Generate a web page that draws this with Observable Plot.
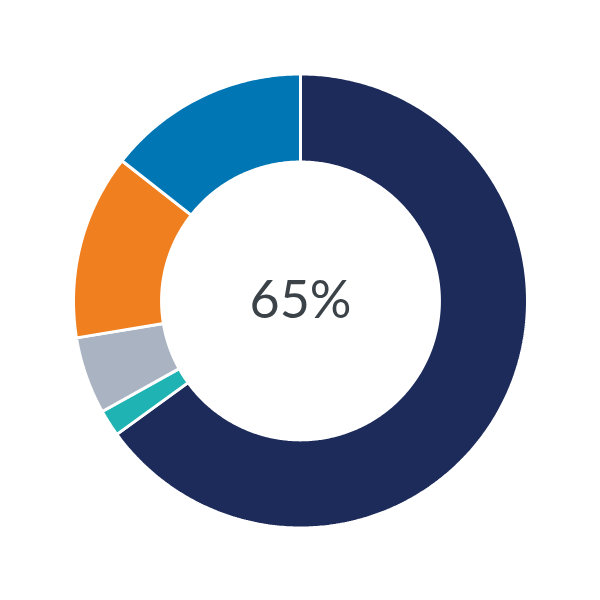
<!DOCTYPE html>
<html>
<head>
<meta charset="utf-8">
<script src="https://cdn.jsdelivr.net/npm/d3@7"></script>
<script src="https://cdn.jsdelivr.net/npm/@observablehq/plot@0.6"></script>
<style>
  html, body { margin: 0; padding: 0; background: #ffffff; }
  #chart { width: 600px; height: 600px; }
</style>
</head>
<body>
<div id="chart"></div>
<script>
// Data
const categories = ["A", "B", "C", "D", "E"];
const values = [65, 1.9, 5.5, 13.2, 14.4];
const colors = ["#1c2b5a", "#1fb3b3", "#a9b3c1", "#f07f1f", "#0076b5"];
const centerLabel = "65%";

const outerR = 1;
const innerR = 0.612;
const total = d3.sum(values);

// Build slice polygons (angle clockwise from top)
const pts = [];
let start = 0;
categories.forEach((c, i) => {
  const a0 = start / total * 2 * Math.PI;
  const a1 = (start + values[i]) / total * 2 * Math.PI;
  start += values[i];
  const n = Math.max(4, Math.ceil((a1 - a0) / 0.01));
  for (let k = 0; k <= n; k++) {
    const a = a0 + (a1 - a0) * k / n;
    pts.push({cat: c, x: outerR * Math.sin(a), y: outerR * Math.cos(a)});
  }
  for (let k = n; k >= 0; k--) {
    const a = a0 + (a1 - a0) * k / n;
    pts.push({cat: c, x: innerR * Math.sin(a), y: innerR * Math.cos(a)});
  }
});

const ext = 300 / 227;
const chart = Plot.plot({
  width: 600,
  height: 600,
  margin: 0,
  x: {domain: [-ext, ext], axis: null},
  y: {domain: [-ext + 0.002, ext + 0.002], axis: null},
  color: {domain: categories, range: colors},
  style: {background: "#ffffff"},
  marks: [
    Plot.line(pts, {
      x: "x", y: "y", z: "cat",
      fill: "cat",
      stroke: "#ffffff",
      strokeWidth: 3,
      strokeLinejoin: "miter",
      curve: "linear-closed"
    }),
    Plot.text([centerLabel], {
      frameAnchor: "middle",
      text: d => d,
      fontSize: 52,
      fontFamily: "Lato",
      fontWeight: 400,
      fill: "#3b4349",
      dy: 1
    })
  ]
});
document.getElementById("chart").appendChild(chart);
</script>
</body>
</html>
